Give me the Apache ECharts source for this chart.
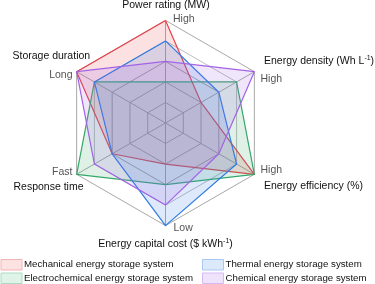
<!DOCTYPE html>
<html>
<head>
<meta charset="utf-8">
<script src="https://cdn.jsdelivr.net/npm/echarts@6/dist/echarts.min.js"></script>
<style>
html,body{margin:0;padding:0;background:#fff;}
#chart{width:375px;height:284px;}
</style>
</head>
<body>
<div id="chart"></div>
<script>
// Axes (ECharts radar places them counterclockwise starting at the top)
const indicators = ['Power rating (MW)', 'Storage duration', 'Response time',
  'Energy capital cost ($ kWh-1)', 'Energy efficiency (%)', 'Energy density (Wh L-1)'];
const levelMax = 5;
// Series values (rating levels 0..5)
const seriesNames = ['Mechanical energy storage system', 'Electrochemical energy storage system',
  'Thermal energy storage system', 'Chemical energy storage system'];
const mechanical      = [5, 5, 3, 2, 5, 2];
const electrochemical = [2, 4, 5, 3, 5, 4];
const thermal         = [4, 4, 3, 5, 4, 3];
const chemical        = [3, 5, 4, 4, 3, 5];
// Extreme-value labels at each axis end
const endLabels = ['High', 'Long', 'Fast', 'Low', 'High', 'High'];

const values = [mechanical, electrochemical, thermal, chemical];
const lineColors = ['#e8434b', '#35a86b', '#2f7ce4', '#a463e6'];
const swatchFill = ['#fde2e2', '#e0f3e8', '#dce9fb', '#efe3fb'];
const swatchBorder = ['#f3b3b3', '#a9dcbf', '#a9c8f1', '#d6b9f3'];

const chart = echarts.init(document.getElementById('chart'), null, {renderer: 'canvas'});

const nameFont = '10.5px "Liberation Sans", Arial, sans-serif';
const valFont = '10.5px "Liberation Sans", Arial, sans-serif';
function txt(x, y, text, align, color, font, rich) {
  const st = {text: text, fill: color, font: font, textAlign: align, align: align,
    textVerticalAlign: 'middle', verticalAlign: 'middle'};
  if (rich) st.rich = rich;
  return {type: 'text', x: x, y: y, style: st, silent: true};
}
const supRich = {
  a: {fontSize: 10.5, fontFamily: '"Liberation Sans", Arial, sans-serif', color: '#111', lineHeight: 13},
  s: {fontSize: 7, fontFamily: '"Liberation Sans", Arial, sans-serif', color: '#111', verticalAlign: 'top', lineHeight: 13}
};

const series = values.map((v, i) => ({
  type: 'radar',
  name: seriesNames[i],
  symbol: 'none',
  z: 2 + i,
  lineStyle: {color: lineColors[i], width: 1.2},
  itemStyle: {color: lineColors[i]},
  areaStyle: {color: lineColors[i], opacity: 0.16},
  data: [{name: seriesNames[i], value: v}]
}));

function legendData(idx) {
  return idx.map(i => ({name: seriesNames[i], icon: 'rect',
    itemStyle: {color: swatchFill[i], borderColor: swatchBorder[i], borderWidth: 1}}));
}
const legendCommon = {
  orient: 'vertical', itemWidth: 21, itemHeight: 10.5, itemGap: 2,
  padding: 0, height: 40,
  textStyle: {fontSize: 9.7, color: '#111', fontFamily: '"Liberation Sans", Arial, sans-serif', padding: [0, 0, 0, -3]},
  selectedMode: false, top: 259
};

chart.setOption({
  animation: false,
  backgroundColor: '#fff',
  radar: {
    center: [165.5, 123],
    radius: 102.6,
    startAngle: 90,
    shape: 'polygon',
    splitNumber: 5,
    indicator: indicators.map(n => ({name: n, min: 0, max: levelMax})),
    axisName: {show: false},
    name: {show: false},
    axisLine: {lineStyle: {color: '#a8a8a8', width: 1}},
    splitLine: {lineStyle: {color: ['#a8a8a8', '#a8a8a8', '#a8a8a8', '#a8a8a8', '#bdbdbd'], width: 1}},
    splitArea: {show: false}
  },
  legend: [
    Object.assign({left: 0.5, data: legendData([0, 1])}, legendCommon),
    Object.assign({left: 202, data: legendData([2, 3])}, legendCommon)
  ],
  graphic: [
    txt(166, 5, indicators[0], 'center', '#111', nameFont),
    txt(173, 19.5, endLabels[0], 'left', '#555', valFont),
    txt(12.5, 56, indicators[1], 'left', '#111', nameFont),
    txt(72.5, 75.5, endLabels[1], 'right', '#555', valFont),
    txt(264, 61, '{a|Energy density (Wh L}{s|-1}{a|)}', 'left', '#111', nameFont, supRich),
    txt(260.5, 79, endLabels[5], 'left', '#555', valFont),
    txt(260.5, 170.5, endLabels[4], 'left', '#555', valFont),
    txt(264, 186, indicators[4], 'left', '#111', nameFont),
    txt(173.5, 228, endLabels[3], 'left', '#555', valFont),
    txt(165.5, 244, '{a|Energy capital cost ($ kWh}{s|-1}{a|)}', 'center', '#111', nameFont, supRich),
    txt(72.5, 172.5, endLabels[2], 'right', '#555', valFont),
    txt(13.5, 187, indicators[2], 'left', '#111', nameFont)
  ],
  series: series
});
</script>
</body>
</html>
